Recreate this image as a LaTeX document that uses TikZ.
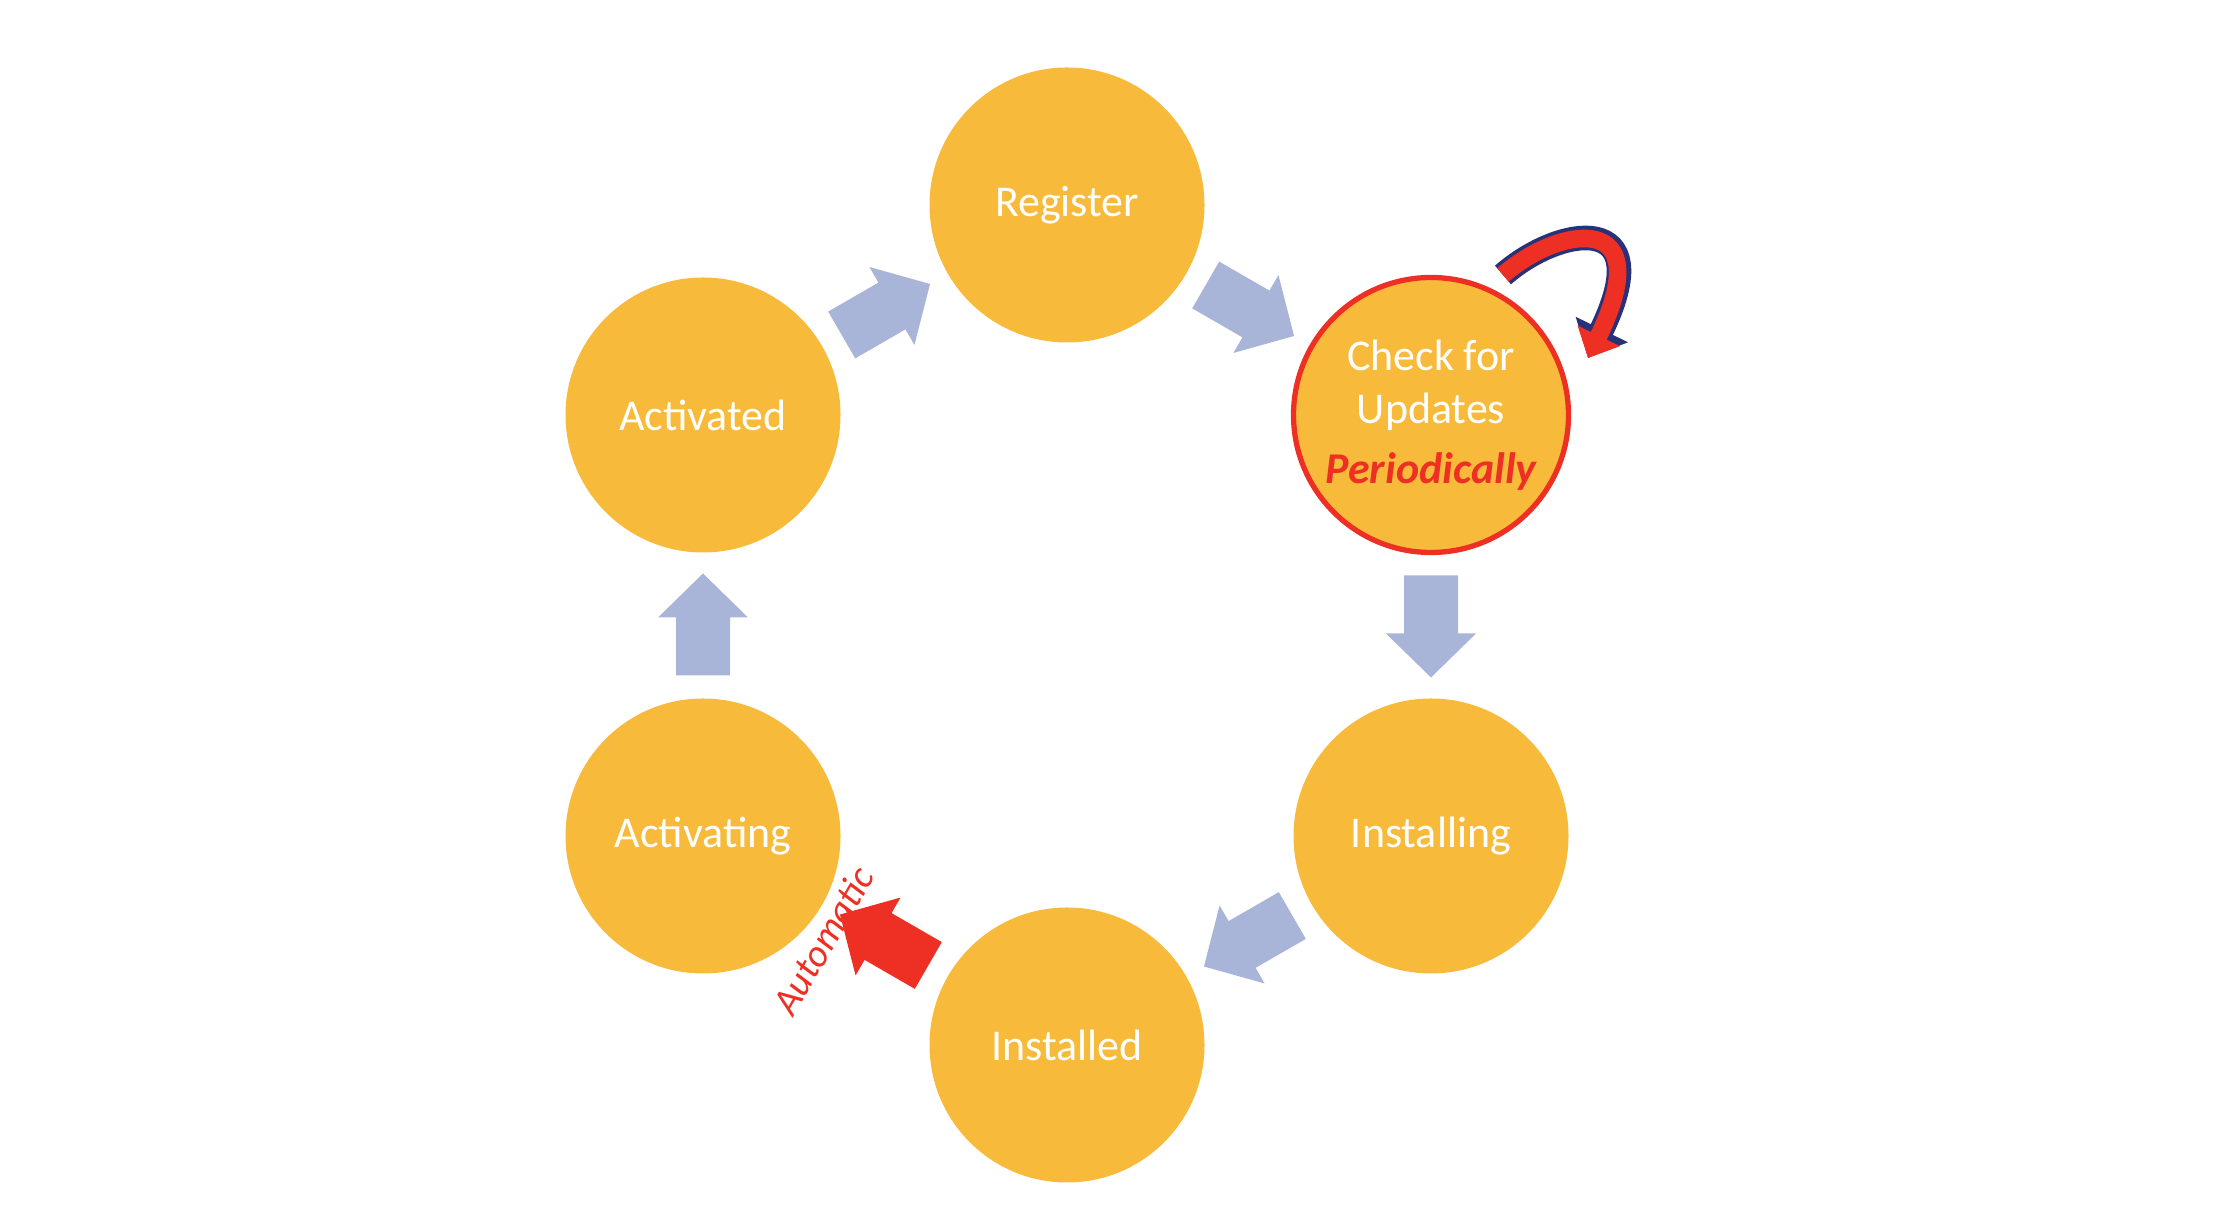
\documentclass[tikz,border=0pt]{standalone}
\usepackage{fontspec}
\setmainfont{Carlito}
\usetikzlibrary{arrows.meta,calc}
\definecolor{stepfill}{RGB}{247,186,58}
\definecolor{flowblue}{RGB}{168,180,216}
\definecolor{alertred}{RGB}{238,48,36}
\definecolor{curvedark}{RGB}{40,50,120}
\tikzset{
  phase/.style={circle, fill=stepfill, minimum size=2.75cm, inner sep=0pt,
    text=white, align=center, font=\fontsize{12.5}{15}\selectfont},
  pics/flow/.style={code={
    \fill[#1] (-0.5,-0.27) -- (0.08,-0.27) -- (0.08,-0.45) -- (0.52,0)
      -- (0.08,0.45) -- (0.08,0.27) -- (-0.5,0.27) -- cycle;}},
}
\begin{document}
\begin{tikzpicture}
        \useasboundingbox (0,0) rectangle (22.34,12.30);

        % Steps of the cycle
        \node[phase] (reg) at (10.67,10.25) {Register};
        \node[phase, draw=alertred, line width=1.5pt] (chk) at (14.31,8.15)
          {Check for\\Updates\\[2pt]\textcolor{alertred}{\itshape\bfseries Periodically}};
        \node[phase] (inst) at (14.31,3.94) {Installing};
        \node[phase] (done) at (10.67,1.85) {Installed};
        \node[phase] (actg) at (7.03,3.94) {Activating};
        \node[phase] (actd) at (7.03,8.15) {Activated};

        % Block arrows between steps
        \pic[rotate=-30] at ($(reg)!0.5!(chk)$) {flow=flowblue};
        \pic[rotate=-90] at ($(chk)!0.5!(inst)$) {flow=flowblue};
        \pic[rotate=-150] at ($(inst)!0.5!(done)$) {flow=flowblue};
        \pic[rotate=150] at ($(done)!0.5!(actg)$) {flow=alertred};
        \pic[rotate=90] at ($(actg)!0.5!(actd)$) {flow=flowblue};
        \pic[rotate=30] at ($(actd)!0.5!(reg)$) {flow=flowblue};

        % Label of the automatic step
        \node[text=alertred, rotate=60, font=\itshape\fontsize{11}{13}\selectfont]
          (auto) at ($(done)!0.5!(actg) + (-0.62,0.0)$) {Automatic};

        % Periodic loop arrow
        \coordinate (loopa) at (15.03,9.55);
        \coordinate (loopb) at (15.88,8.72);
        \draw[line width=7pt, curvedark, -{Triangle[length=9pt,width=16pt]}]
          (loopa) .. controls (15.6,10.05) and (16.6,10.2) .. (loopb);
        \draw[line width=5pt, alertred, -{Triangle[length=7pt,width=13pt]}]
          (loopa) .. controls (15.6,10.05) and (16.6,10.2) .. (loopb);
      \end{tikzpicture}
\end{document}
